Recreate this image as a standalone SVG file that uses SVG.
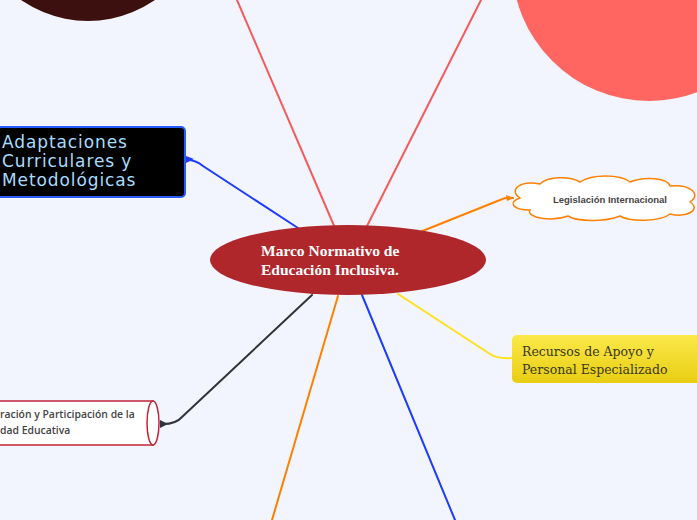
<svg xmlns="http://www.w3.org/2000/svg" width="697" height="520" viewBox="0 0 697 520">
<style>
.ln{fill:none;stroke-width:2;stroke-linecap:round}
</style>
<defs>
<linearGradient id="yg" x1="0" y1="0" x2="0" y2="1">
<stop offset="0" stop-color="#fbe94a"/>
<stop offset="1" stop-color="#e8cd12"/>
</linearGradient>
</defs>
<rect width="697" height="520" fill="#f2f5fe"/>
<circle cx="88" cy="-96" r="117" fill="#3d1010"/>
<circle cx="649" cy="-36" r="137" fill="#ff6662"/>
<g id="connectors">
<path class="ln" stroke="#f55b5b" d="M367 226 L481 0"/>
<path class="ln" stroke="#f55b5b" d="M335 228 L237 0"/>
<path class="ln" stroke="#1e3cff" d="M298 228 L203 166 Q196 160 187 160"/>
<path d="M186 156 L194 159 L186 163 Z" fill="#1e3cff"/>
<path class="ln" stroke="#ff8000" d="M420 232 L500 200 Q506 197 513 198"/>
<path d="M506 195 L514 198 L507 201 Z" fill="#ff8000"/>
<path class="ln" stroke="#ffe01a" d="M398 294 L490 354 Q497 359 512 358"/>
<path class="ln" stroke="#1e3cff" d="M362 295 L455 520"/>
<path class="ln" stroke="#ff8000" d="M338 296 L272 520"/>
<path class="ln" stroke="#333340" d="M312 295 L182 417 Q176 424 163 424"/>
<path d="M160 420 L168 424 L160 428 Z" fill="#333340"/>
</g>
<g id="center">
<ellipse cx="348" cy="260" rx="138" ry="35" fill="#b0272b"/>
<text font-family="Liberation Serif, serif" font-weight="bold" font-size="15.5" fill="#ffffff"><tspan x="261" y="256">Marco Normativo de</tspan><tspan x="261" y="275">Educación Inclusiva.</tspan></text>
</g>
<g id="adaptaciones">
<rect x="-6" y="127" width="191" height="70" rx="4" fill="#000000" stroke="#2a5bff" stroke-width="2"/>
<text font-family="DejaVu Sans, sans-serif" font-size="17" fill="#a7ddff" letter-spacing="0.9"><tspan x="2" y="148">Adaptaciones</tspan><tspan x="2" y="167">Curriculares y</tspan><tspan x="2" y="186">Metodológicas</tspan></text>
</g>
<g id="legislacion">
<path d="M520 198 C508 190 520 180 540 184 C548 176 570 176 580 182 C592 174 620 174 630 182 C645 176 668 178 670 186 C690 184 702 194 690 202 C702 210 686 218 670 214 C660 222 630 222 620 216 C605 222 578 222 568 216 C552 222 526 218 530 210 C512 210 508 202 520 198 Z" fill="#ffffff" stroke="#ff8000" stroke-width="1.5"/>
<text x="610" y="203" text-anchor="middle" font-family="Liberation Sans, sans-serif" font-weight="bold" font-size="9.5" fill="#444444">Legislación Internacional</text>
</g>
<g id="recursos">
<rect x="512" y="335" width="195" height="48" rx="5" fill="url(#yg)"/>
<text font-family="DejaVu Serif, serif" font-size="12.5" fill="#3a3820"><tspan x="522" y="356">Recursos de Apoyo y</tspan><tspan x="522" y="374">Personal Especializado</tspan></text>
</g>
<g id="integracion">
<rect x="-10" y="401" width="164" height="44" fill="#ffffff"/>
<path d="M-10 401 L154 401 M-10 445 L154 445" stroke="#c0263a" stroke-width="1.5" fill="none"/>
<ellipse cx="153" cy="423" rx="6" ry="22" fill="#ffffff" stroke="#c0263a" stroke-width="1.5"/>
<text font-family="Open Sans, sans-serif" font-weight="600" font-size="10.4" fill="#444444"><tspan x="0" y="418">ración y Participación de la</tspan><tspan x="0" y="434">dad Educativa</tspan></text>
</g>
</svg>
